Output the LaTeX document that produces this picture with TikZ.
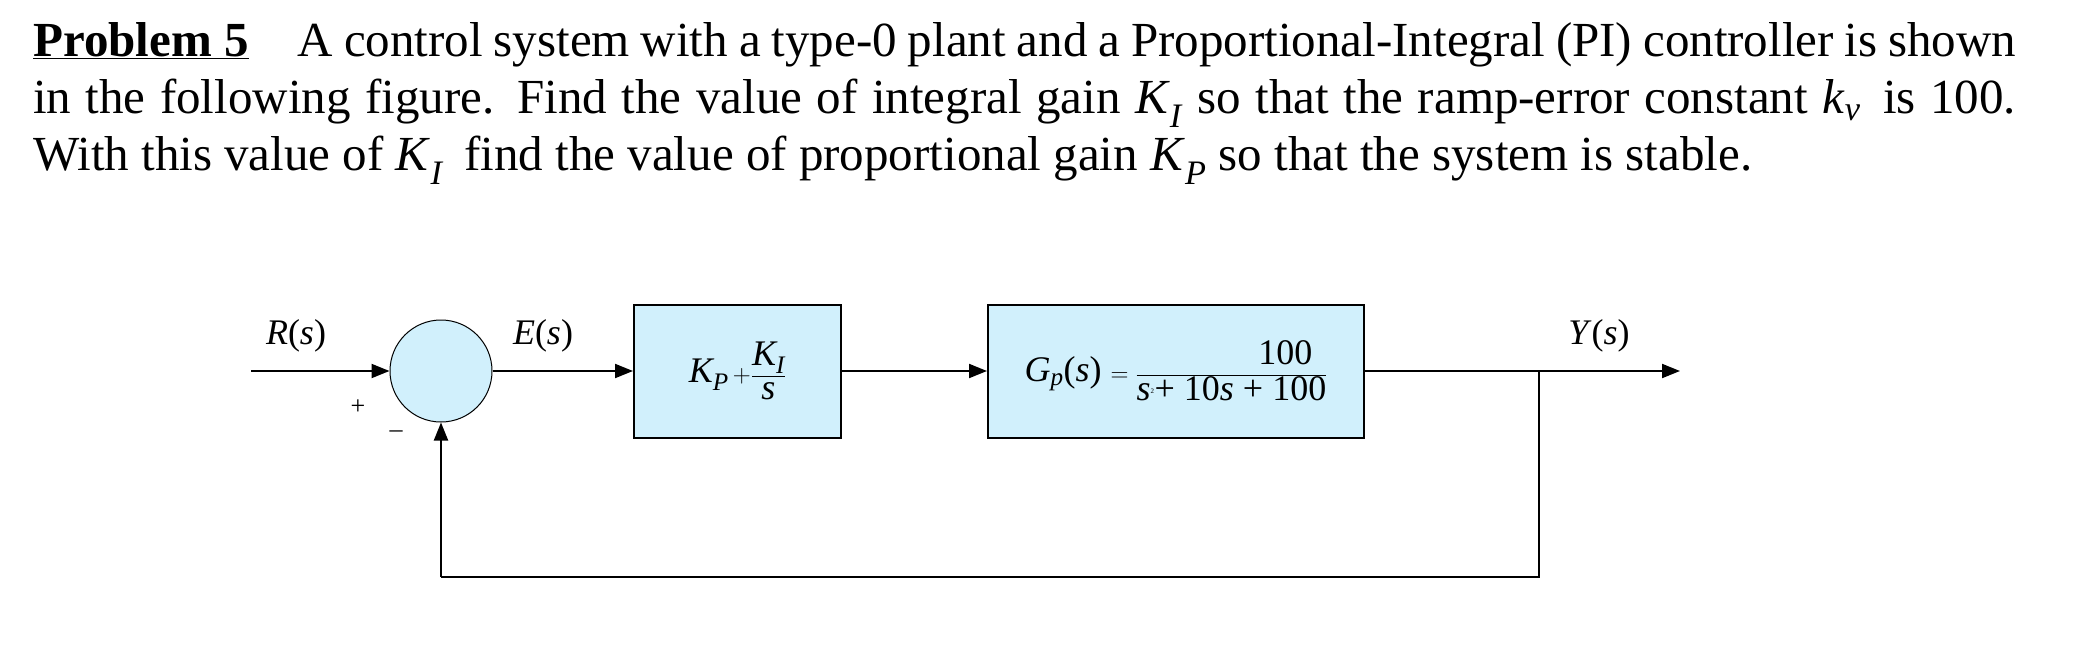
\documentclass[tikz,border=0pt]{standalone}
\usepackage{fontspec}
\setmainfont{Liberation Serif}
\usetikzlibrary{arrows.meta}
\newcommand{\ti}[1]{\mbox{\itshape #1}}
\begin{document}
\begin{tikzpicture}[x=1pt,y=-1pt,
  blk/.style={draw,line width=2pt,fill=cyan!18,inner sep=0pt},
  lbl/.style={font=\fontsize{36}{40}\selectfont},
  sig/.style={line width=2pt,-{Triangle[length=18pt,width=14pt]}},
  wire/.style={line width=2pt}]
\useasboundingbox (0,0) rectangle (2083,656);
\node[anchor=north west,inner sep=0pt,text width=1983pt,align=justify,font=\fontsize{49}{57}\selectfont] (txt) at (33,22)
 {\textbf{\underline{Problem 5}}\quad A control system with a type-0 plant and a Proportional-Integral (PI) controller is shown in the following figure. Find the value of integral gain \textit{K}\textsubscript{\textit{I}} so that the ramp-error constant \textit{k}\textsubscript{\textit{v}}\, is 100. With this value of \textit{K}\textsubscript{\textit{I}}\, find the value of proportional gain \textit{K}\textsubscript{\textit{P}} so that the system is stable.};
\node[draw,circle,line width=1pt,fill=cyan!18,minimum size=102pt,inner sep=0pt] (sum) at (441,371) {};
\node[blk,minimum width=207pt,minimum height=133pt] (c) at (737.5,371) {};
\node[lbl] at (c) {\ti{K}\textsubscript{\ti{P}}$\,+\displaystyle\frac{\ti{K\textsubscript{I}}}{\ti{s}}$};
\node[blk,minimum width=376pt,minimum height=133pt] (g) at (1176,371) {};
\node[lbl] at (g) {\ti{G}\textsubscript{\ti{p}}(\ti{s}) $=\displaystyle\frac{\mbox{\quad\qquad100}}{\ti{s}^{\mbox{\scriptsize 2}}\mbox{+ 10\itshape s\upshape\ + 100}}$};
\coordinate (in) at (251,371);
\coordinate (out) at (1680,371);
\coordinate (br) at (1539,371);
\coordinate (bot) at (1539,577);
\coordinate (botl) at (441,577);
\draw[sig] (in) -- (sum.west);
\draw[sig] (sum.east) -- (c.west);
\draw[sig] (c.east) -- (g.west);
\draw[sig] (g.east) -- (out);
\draw[wire] (br) -- (bot) -- (botl);
\draw[sig] (botl) -- (sum.south);
\node[lbl] (r) at (296,336) {\textit{R}(\textit{s})};
\node[lbl] (e) at (543,336) {\textit{E}(\textit{s})};
\node[lbl] (y) at (1599,336) {\textit{Y}(\textit{s})};
\node[font=\fontsize{26}{26}\selectfont] (p) at (358,407) {+};
\node[font=\fontsize{26}{26}\selectfont] (m) at (396,434) {–};
\end{tikzpicture}
\end{document}
